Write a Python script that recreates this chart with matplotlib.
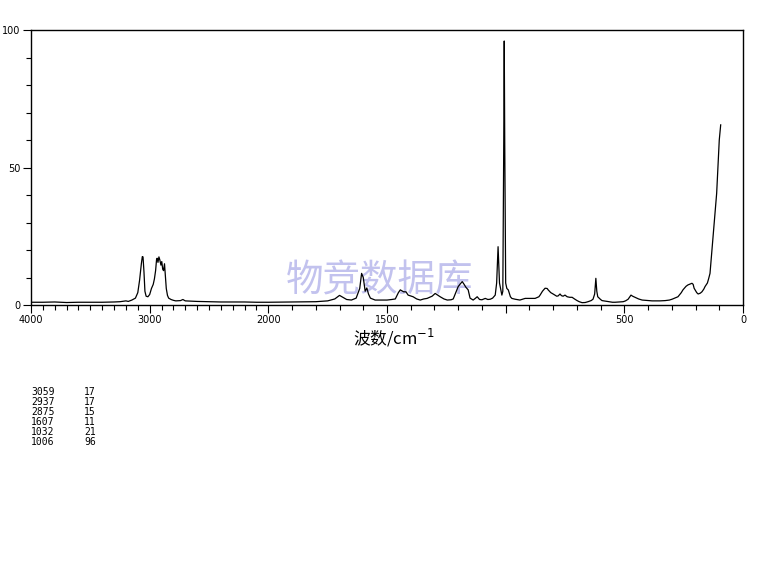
import numpy as np
import matplotlib
matplotlib.use("Agg")
import matplotlib.pyplot as plt
from matplotlib.ticker import FixedLocator, NullFormatter

# ---- data ----
wavenumber = [4000, 3900, 3800, 3700, 3600, 3500, 3400, 3300, 3250, 3200, 3180, 3150, 3120, 3100,
              3085, 3070, 3062, 3056, 3048, 3040, 3030, 3015, 3000, 2985, 2970, 2960, 2950, 2942,
              2937, 2930, 2922, 2915, 2905, 2898, 2890, 2883, 2875, 2868, 2860, 2850, 2840, 2820,
              2800, 2780, 2740, 2720, 2700, 2650, 2600, 2500, 2400, 2300, 2200, 2100, 2000, 1900,
              1800, 1750, 1720, 1700, 1690, 1670, 1650, 1630, 1615, 1607, 1600, 1592, 1585, 1578,
              1570, 1550, 1500, 1480, 1465, 1452, 1444, 1430, 1420, 1411, 1390, 1375, 1360, 1345,
              1331, 1310, 1297, 1285, 1276, 1260, 1246, 1230, 1221, 1208, 1200, 1190, 1183, 1175,
              1168, 1158, 1150, 1137, 1128, 1120, 1110, 1100, 1086, 1075, 1065, 1055, 1044, 1038,
              1032, 1026, 1016, 1012, 1008, 1006, 1004, 1000, 995, 989, 980, 974, 960, 940, 918,
              900, 876, 860, 855, 845, 834, 825, 821, 810, 800, 785, 779, 771, 765, 758, 750, 741,
              730, 720, 710, 699, 690, 678, 665, 653, 640, 632, 625, 620, 616, 612, 600, 594, 580,
              568, 550, 539, 520, 505, 495, 484, 472, 465, 455, 440, 425, 400, 383, 350, 328, 310,
              299, 285, 274, 260, 253, 240, 232, 215, 210, 206, 195, 189, 180, 173, 165, 160, 150,
              145, 139, 132, 125, 118, 111, 104, 100, 94]
intensity = [1.0, 1.0, 1.1, 0.9, 1.0, 1.0, 1.0, 1.1, 1.2, 1.5, 1.3, 1.8, 2.5, 4.5,
             9.0, 15.0, 17.6, 17.5, 12.0, 5.0, 3.2, 3.0, 3.8, 6.0, 7.5, 9.5, 12.5, 16.5,
             17.0, 15.5, 17.5, 16.5, 14.5, 15.8, 13.0, 12.5, 15.0, 11.0, 6.0, 3.5, 2.5, 2.0,
             1.7, 1.5, 1.6, 2.0, 1.5, 1.4, 1.3, 1.2, 1.1, 1.1, 1.1, 1.0, 1.0, 1.1,
             1.2, 1.5, 2.2, 3.5, 3.0, 2.0, 1.8, 2.5, 6.0, 11.5, 10.0, 5.0, 6.2, 4.0,
             2.5, 1.8, 1.8, 2.0, 2.2, 4.5, 5.5, 4.8, 4.8, 3.6, 3.0, 2.2, 1.8, 2.2,
             2.4, 3.2, 4.2, 3.5, 3.0, 2.2, 1.8, 1.9, 2.2, 5.0, 6.7, 7.8, 8.5, 7.5,
             6.5, 5.5, 2.5, 1.8, 2.4, 3.0, 2.0, 1.9, 2.4, 2.0, 2.1, 2.5, 3.6, 8.0,
             21.2, 8.0, 3.6, 5.0, 60.0, 96.0, 60.0, 8.0, 6.0, 5.5, 3.0, 2.4, 2.1, 1.8, 2.4,
             2.4, 2.4, 3.0, 3.6, 5.0, 6.1, 6.0, 5.5, 4.5, 4.0, 3.2, 3.3, 4.0, 3.4, 3.2, 3.6, 3.0,
             2.8, 2.8, 2.2, 1.6, 1.2, 0.85, 0.9, 1.2, 1.6, 2.1, 4.0, 9.7, 5.0, 3.0, 2.0, 1.6, 1.4,
             1.2, 1.0, 1.0, 1.1, 1.2, 1.5, 2.1, 3.6, 3.2, 2.8, 2.2, 1.8, 1.6, 1.5, 1.5, 1.6, 1.8,
             2.1, 2.6, 3.0, 4.5, 5.5, 6.8, 7.3, 7.9, 7.5, 6.1, 4.5, 4.0, 4.3, 4.8, 5.8, 6.7, 8.0,
             9.5, 11.5, 18.8, 26.0, 33.3, 40.6, 52.7, 60.0, 65.5]

peak_positions = ["3059", "2937", "2875", "1607", "1032", "1006"]
peak_values = ["17", "17", "15", "11", "21", "96"]

x_major = [4000, 3000, 2000, 1500, 1000, 500, 0]
x_major_labels = ["4000", "3000", "2000", "1500", "", "500", "0"]
y_major = [0, 50, 100]
y_major_labels = ["0", "50", "100"]

# ---- axis scale: 4000-2000 compressed by factor 2 ----
def fwd(x):
    x = np.asarray(x, dtype=float)
    return np.where(x <= 2000, x, 2000 + (x - 2000) / 2.0)

def inv(p):
    p = np.asarray(p, dtype=float)
    return np.where(p <= 2000, p, 2000 + (p - 2000) * 2.0)

plt.rcParams['font.family'] = ['DejaVu Sans']

fig = plt.figure(figsize=(7.65, 5.67), dpi=100)
ax = fig.add_axes([31 / 765, 1 - 305 / 567, 712 / 765, 275 / 567])
ax.set_xscale('function', functions=(fwd, inv))
ax.set_xlim(4000, 0)
ax.set_ylim(0, 100)

ax.plot(wavenumber, intensity, color='black', lw=0.9, zorder=3)

for s in ax.spines.values():
    s.set_linewidth(1.0)
    s.set_color('black')

ax.xaxis.set_major_locator(FixedLocator(x_major))
ax.set_xticklabels(x_major_labels)
ax.xaxis.set_minor_locator(FixedLocator([v for v in range(0, 4001, 100) if v not in x_major]))
ax.xaxis.set_minor_formatter(NullFormatter())
ax.yaxis.set_major_locator(FixedLocator(y_major))
ax.set_yticklabels(y_major_labels)
ax.yaxis.set_minor_locator(FixedLocator([v for v in range(0, 101, 10) if v not in y_major]))

ax.tick_params(axis='both', which='major', direction='out', length=6, width=0.8,
               labelsize=7, pad=1.5)
ax.tick_params(axis='both', which='minor', direction='out', length=3.5, width=0.8)

ax.set_xlabel('波数/cm$^{-1}$', family=['Noto Sans CJK SC', 'DejaVu Sans'],
              fontsize=12)
ax.xaxis.set_label_coords(0.51, -0.078)

# watermark
ax.text(0.49, 0.087, '物竞数据库', transform=ax.transAxes, ha='center', va='center',
        family=['Noto Sans CJK SC', 'DejaVu Sans'], fontsize=27, color='#c2c2ee',
        zorder=1)

# peak table
for i, (p, v) in enumerate(zip(peak_positions, peak_values)):
    yy = 1 - (392 + 10 * i) / 567
    fig.text(31 / 765, yy, p, fontsize=7, family='DejaVu Sans Mono', va='center', ha='left')
    fig.text(84 / 765, yy, v, fontsize=7, family='DejaVu Sans Mono', va='center', ha='left')

fig.savefig('out.png', dpi=100)
